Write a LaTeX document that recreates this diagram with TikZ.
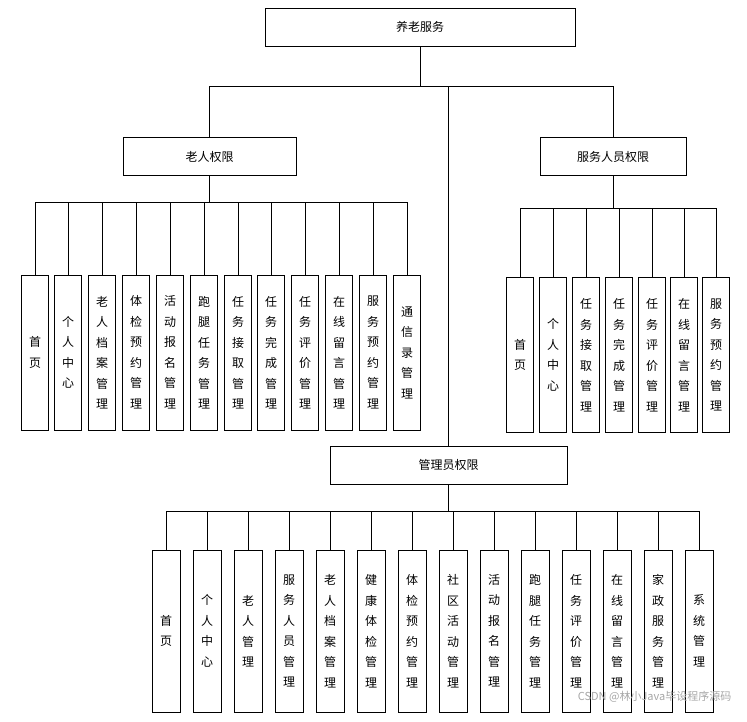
\documentclass[tikz,border=0pt]{standalone}
\usepackage{fontspec}
\setmainfont{Noto Sans CJK SC}
\begin{document}
\begin{tikzpicture}[x=1pt,y=-1pt,line width=0.8pt,
  topbox/.style={draw,minimum height=38pt,font=\fontsize{12}{14}\selectfont},
  leafbox/.style={draw,minimum width=27pt,minimum height=155pt,align=center,inner sep=0pt,font=\fontsize{12}{20.5}\selectfont}]
\useasboundingbox (0,0) rectangle (747,721);
\node[topbox,minimum width=310pt] (root) at (420,27) {养老服务};
\node[topbox,minimum width=173pt] (lp) at (209.5,156.5) {老人权限};
\node[topbox,minimum width=146pt] (sp) at (613,156.5) {服务人员权限};
\node[topbox,minimum width=237pt] (ap) at (448.5,465) {管理员权限};
\coordinate (tbus) at (0,86);
\coordinate (lbus) at (0,202);
\coordinate (sbus) at (0,208);
\coordinate (abus) at (0,511);
% top level
\draw (root.south) -- (root.south |- tbus);
\draw (lp.north |- tbus) -- (sp.north |- tbus);
\draw (lp.north) -- (lp.north |- tbus);
\draw (sp.north) -- (sp.north |- tbus);
\draw (ap.north) -- (ap.north |- tbus);
% elderly
\foreach \x/\t [count=\i] in {35/{首\\页},68/{个\\人\\中\\心},102/{老\\人\\档\\案\\管\\理},136/{体\\检\\预\\约\\管\\理},
  170/{活\\动\\报\\名\\管\\理},204/{跑\\腿\\任\\务\\管\\理},238/{任\\务\\接\\取\\管\\理},271/{任\\务\\完\\成\\管\\理},
  305/{任\\务\\评\\价\\管\\理},339/{在\\线\\留\\言\\管\\理},373/{服\\务\\预\\约\\管\\理},407/{通\\信\\录\\管\\理}}{
  \node[leafbox] (l\i) at (\x,352.5) {\t};
  \draw (l\i.north) -- (l\i.north |- lbus);
}
\draw (l1.north |- lbus) -- (l12.north |- lbus);
\draw (lp.south) -- (lp.south |- lbus);
% staff
\foreach \x/\t [count=\i] in {520/{首\\页},553/{个\\人\\中\\心},586/{任\\务\\接\\取\\管\\理},619/{任\\务\\完\\成\\管\\理},
  652/{任\\务\\评\\价\\管\\理},684/{在\\线\\留\\言\\管\\理},716/{服\\务\\预\\约\\管\\理}}{
  \node[leafbox] (s\i) at (\x,355) {\t};
  \draw (s\i.north) -- (s\i.north |- sbus);
}
\draw (s1.north |- sbus) -- (s7.north |- sbus);
\draw (sp.south) -- (sp.south |- sbus);
% admin
\foreach \x/\t [count=\i] in {166/{首\\页},207/{个\\人\\中\\心},248/{老\\人\\管\\理},289/{服\\务\\人\\员\\管\\理},
  330/{老\\人\\档\\案\\管\\理},371/{健\\康\\体\\检\\管\\理},412/{体\\检\\预\\约\\管\\理},453/{社\\区\\活\\动\\管\\理},
  494/{活\\动\\报\\名\\管\\理},535/{跑\\腿\\任\\务\\管\\理},576/{任\\务\\评\\价\\管\\理},617/{在\\线\\留\\言\\管\\理},
  658/{家\\政\\服\\务\\管\\理},699/{系\\统\\管\\理}}{
  \node[leafbox,minimum width=28pt,minimum height=162pt] (a\i) at (\x,631) {\t};
  \draw (a\i.north) -- (a\i.north |- abus);
}
\draw (a1.north |- abus) -- (a14.north |- abus);
\draw (ap.south) -- (ap.south |- abus);
\node[text=gray!70,font=\fontsize{11}{12}\selectfont,anchor=east] (wm) at (735,697) {CSDN @林小Java毕设程序源码};
\end{tikzpicture}
\end{document}
